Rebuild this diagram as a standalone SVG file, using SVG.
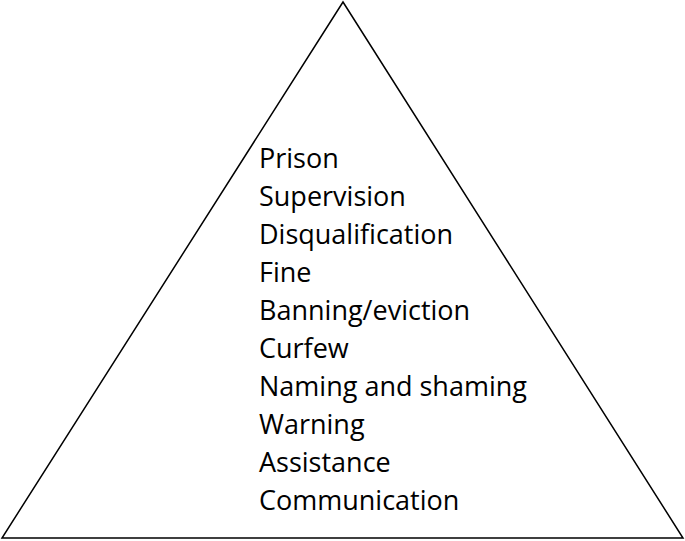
<svg xmlns="http://www.w3.org/2000/svg" width="685" height="541" viewBox="0 0 685 541">
<style>
.t{font-family:"Open Sans","Liberation Sans",sans-serif;font-size:27px;fill:#000}
</style>
<rect width="685" height="541" fill="#fff"/>
<g id="pyramid"><polygon points="343,2 2,538 683,538" fill="none" stroke="#000" stroke-width="1.5"/></g>
<g id="labels">
<text class="t" x="259" y="168">Prison</text>
<text class="t" x="259" y="206">Supervision</text>
<text class="t" x="259" y="244">Disqualification</text>
<text class="t" x="259" y="282">Fine</text>
<text class="t" x="259" y="320">Banning/eviction</text>
<text class="t" x="259" y="358">Curfew</text>
<text class="t" x="259" y="396">Naming and shaming</text>
<text class="t" x="259" y="434">Warning</text>
<text class="t" x="259" y="472">Assistance</text>
<text class="t" x="259" y="510">Communication</text>
</g>
<g id="connectors"/>
</svg>
